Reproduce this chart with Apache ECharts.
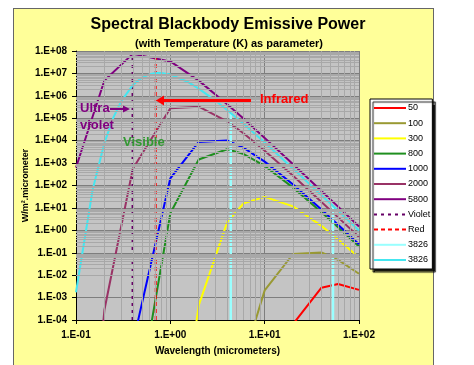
<!DOCTYPE html>
<html>
<head>
<meta charset="utf-8">
<script src="https://cdn.jsdelivr.net/npm/echarts@6/dist/echarts.min.js"></script>
<style>
  html, body { margin: 0; padding: 0; background: #ffffff; }
  #frame { position: absolute; left: 13px; top: 8px; width: 419px; height: 400px; background: #ffff99; border: 1px solid #666666; }
  #chart { position: absolute; left: 0; top: 0; width: 474px; height: 365px; }
</style>
</head>
<body>
<div id="frame"></div>
<div id="chart"></div>
<script>
// ---- data ----
const wavelengths = [0.1, 0.2, 0.4, 1, 2, 4, 6, 10, 20, 40, 60, 100];
const e50   = [null, null, null, null, null, null, null, 1.2e-9, 6.6e-5, 2.75e-3, 4.0e-3, 2.2e-3];
const e100  = [null, null, null, null, null, 8.7e-11, 1.85e-6, 2.1e-3, 0.088, 0.103, 0.048, 0.0116];
const e300  = [null, null, null, 5.5e-13, 4.5e-4, 2.27, 16.2, 31.1, 11.7, 1.58, 0.393, 0.0608];
const e800  = [null, null, 1.07e-9, 5.76, 1450, 4120, 2520, 742, 80.2, 6.43, 1.38, 0.19];
const e1000 = [null, null, 8.7e-6, 210, 8790, 10300, 4810, 1164, 111, 8.44, 1.78, 0.242];
const e2000 = [2.1e-18, 2.78e-4, 562, 2.81e5, 3.29e5, 7.25e4, 2.08e4, 3550, 270, 18.5, 3.78, 0.502];
const e5800 = [634, 4.81e6, 7.43e7, 3.42e7, 4.76e6, 4.25e5, 9.4e4, 1.33e4, 885, 57.1, 11.4, 1.49];

const fineWavelengths = [0.1, 0.15, 0.2, 0.25, 0.3, 0.4, 0.5, 0.6, 0.7, 0.8, 1, 1.5, 2, 3, 4, 6, 10, 20, 40, 60, 100];
const e3826 = [1.73e-3, 63.8, 7950, 1.13e5, 5.54e5, 3.02e6, 6.49e6, 9.13e6, 1.04e7, 1.05e7, 8.9e6, 4.37e6, 2.1e6, 6.15e5, 2.34e5, 5.52e4, 8195, 565, 37.1, 7.44, 0.977];

const violetX = [0.4, 0.4];
const violetY = [1e-4, 7e7];
const redX = [0.7, 0.7];
const redY = [1e-4, 7.5e7];
const bandX = [4.37, 4.37, 53, 53];
const bandY = [1e-4, 1.8e5, 12, 1e-4];

const xTickLabels = ['1.E-01', '1.E+00', '1.E+01', '1.E+02'];
const yTickLabels = ['1.E-04', '1.E-03', '1.E-02', '1.E-01', '1.E+00', '1.E+01', '1.E+02',
                     '1.E+03', '1.E+04', '1.E+05', '1.E+06', '1.E+07', '1.E+08'];
const minorMultipliers = [2, 3, 4, 5, 6, 7, 8, 9];

// ---- helpers ----
function pairs(xs, ys) {
  const out = [];
  xs.forEach((x, i) => { if (ys[i] != null) out.push([x, ys[i]]); });
  return out;
}
const FONT = '"Liberation Sans", Arial, sans-serif';

const minorX = [];
for (let k = -1; k <= 1; k++) minorMultipliers.forEach(m => minorX.push({ xAxis: m * Math.pow(10, k) }));
const minorY = [];
for (let k = -4; k <= 7; k++) minorMultipliers.forEach(m => minorY.push({ yAxis: m * Math.pow(10, k) }));

function lineSeries(name, data, color, extra) {
  return Object.assign({
    name: name, type: 'line', data: data, symbol: 'none', showSymbol: false,
    clip: true, z: 3,
    lineStyle: { color: color, width: 2 }, itemStyle: { color: color }
  }, extra || {});
}

const bandData = [[bandX[0], bandY[0]], [bandX[1], bandY[1]], [bandX[1], '-'], [bandX[2], bandY[2]], [bandX[3], bandY[3]]];

const chart = echarts.init(document.getElementById('chart'), null, { renderer: 'canvas' });
chart.setOption({
  animation: false,
  backgroundColor: 'transparent',
  textStyle: { fontFamily: FONT },
  title: [
    { text: 'Spectral Blackbody Emissive Power', left: 223, top: 12, textAlign: 'center',
      textStyle: { fontFamily: FONT, fontSize: 16, fontWeight: 'bold', color: '#000' } },
    { text: '(with Temperature (K) as parameter)', left: 224, top: 33, textAlign: 'center',
      textStyle: { fontFamily: FONT, fontSize: 11, fontWeight: 'bold', color: '#000' } }
  ],
  grid: { left: 76, right: 115, top: 51, bottom: 45, show: true, backgroundColor: '#c4c4c4', borderWidth: 0 },
  legend: {
    orient: 'vertical', left: 370, top: 99,
    padding: [4, 2, 4, 3], itemWidth: 32, itemHeight: 10, itemGap: 5.2,
    backgroundColor: '#ffffff', borderColor: '#000000', borderWidth: 1,
    shadowColor: 'rgba(0,0,0,0.9)', shadowBlur: 1, shadowOffsetX: 3, shadowOffsetY: 3,
    itemStyle: { opacity: 0, borderWidth: 0 },
    textStyle: { fontFamily: FONT, fontSize: 9, color: '#000', lineHeight: 10, padding: [0, 0, 0, -3] },
    formatter: n => n.trim(),
    data: ['50', '100', '300', '800', '1000', '2000', '5800', 'Violet', 'Red', '3826', '3826 ']
  },
  xAxis: {
    type: 'log', logBase: 10, min: 0.1, max: 100, interval: 1,
    name: 'Wavelength (micrometers)', nameLocation: 'middle', nameGap: 26,
    nameTextStyle: { fontFamily: FONT, fontSize: 10, fontWeight: 'bold', color: '#000' },
    axisLine: { show: true, lineStyle: { color: '#000', width: 1 } },
    axisTick: { show: true, length: 4, lineStyle: { color: '#000' } },
    axisLabel: { margin: 10, fontFamily: FONT, fontSize: 10, fontWeight: 'bold', color: '#000',
      formatter: v => xTickLabels[Math.round(Math.log10(v)) + 1] },
    splitLine: { show: true, lineStyle: { color: '#7e7e7e', width: 1 } }
  },
  yAxis: {
    type: 'log', logBase: 10, min: 1e-4, max: 1e8, interval: 1,
    name: 'W/m².micrometer', nameLocation: 'middle', nameGap: 46, nameMoveOverlap: false,
    nameTextStyle: { fontFamily: FONT, fontSize: 9, fontWeight: 'bold', color: '#000' },
    axisLine: { show: true, lineStyle: { color: '#000', width: 1 } },
    axisTick: { show: true, length: 4, lineStyle: { color: '#000' } },
    axisLabel: { margin: 9, fontFamily: FONT, fontSize: 10, fontWeight: 'bold', color: '#000',
      formatter: v => yTickLabels[Math.round(Math.log10(v)) + 4] },
    splitLine: { show: true, lineStyle: { color: '#7e7e7e', width: 1 } }
  },
  series: [
    { name: 'minorGrid', type: 'line', data: [], z: 1, silent: true,
      markLine: { silent: true, symbol: ['none', 'none'], animation: false,
        label: { show: false }, lineStyle: { color: '#a8a8a8', width: 1, type: 'solid' },
        data: minorX.concat(minorY) } },
    lineSeries('50', pairs(wavelengths, e50), '#ff0000'),
    lineSeries('100', pairs(wavelengths, e100), '#999933'),
    lineSeries('300', pairs(wavelengths, e300), '#ffff00'),
    lineSeries('800', pairs(wavelengths, e800), '#1f8f1f'),
    lineSeries('1000', pairs(wavelengths, e1000), '#0000ff'),
    lineSeries('2000', pairs(wavelengths, e2000), '#993366'),
    lineSeries('5800', pairs(wavelengths, e5800), '#800080'),
    lineSeries('Violet', pairs(violetX, violetY), '#660066',
      { lineStyle: { color: '#660066', width: 2.5, type: [3, 4] } }),
    lineSeries('Red', pairs(redX, redY), '#ff0000',
      { lineStyle: { color: '#ff0000', width: 2, type: [4, 3] } }),
    lineSeries('3826', bandData, '#99ffff', { connectNulls: false, lineStyle: { color: '#99ffff', width: 2.5 } }),
    lineSeries('3826 ', pairs(fineWavelengths, e3826), '#44e6f0')
  ],
  graphic: [
    { type: 'text', left: 80, top: 102, z: 10,
      style: { text: 'Ultra', font: 'bold 13px ' + FONT, fill: '#800080' } },
    { type: 'text', left: 80, top: 119, z: 10,
      style: { text: 'violet', font: 'bold 13px ' + FONT, fill: '#800080' } },
    { type: 'text', left: 123, top: 136, z: 10,
      style: { text: 'Visible', font: 'bold 13px ' + FONT, fill: '#339933' } },
    { type: 'text', left: 260, top: 93, z: 10,
      style: { text: 'Infrared', font: 'bold 13px ' + FONT, fill: '#ff0000' } },
    { type: 'line', z: 10, shape: { x1: 110, y1: 109, x2: 124, y2: 109 },
      style: { stroke: '#800080', lineWidth: 2 } },
    { type: 'polygon', z: 10, shape: { points: [[123, 105.5], [130, 109], [123, 112.5]] },
      style: { fill: '#800080' } },
    { type: 'line', z: 10, shape: { x1: 251, y1: 100.5, x2: 163, y2: 100.5 },
      style: { stroke: '#ff0000', lineWidth: 3 } },
    { type: 'polygon', z: 10, shape: { points: [[164, 95.5], [156, 100.5], [164, 105.5]] },
      style: { fill: '#ff0000' } }
  ]
});
</script>
</body>
</html>
